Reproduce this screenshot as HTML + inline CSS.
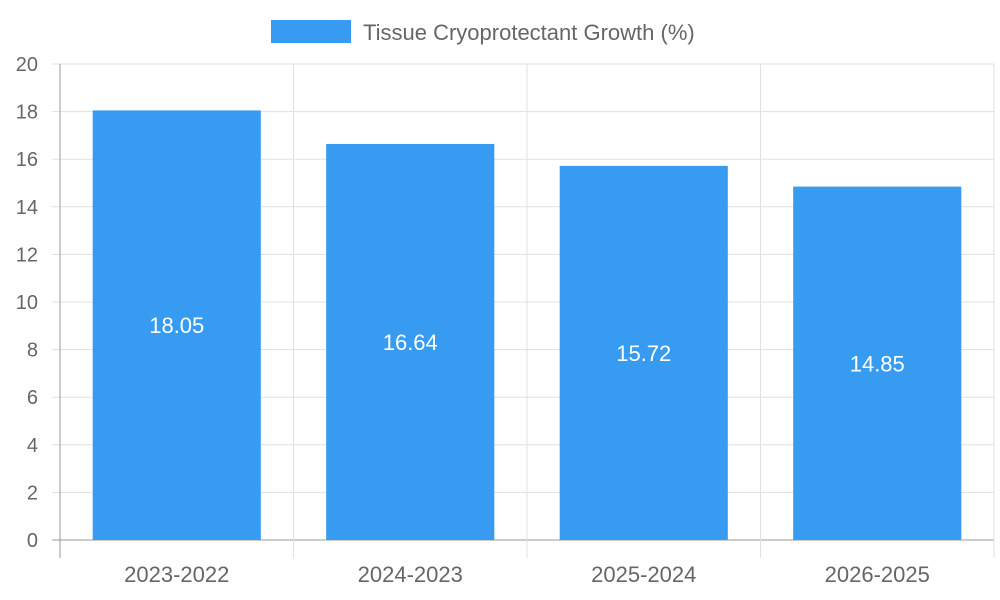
<!DOCTYPE html>
<html><head><meta charset="utf-8"><style>
body{margin:0;background:#fff;font-family:"Liberation Sans",sans-serif;}
svg{display:block}
</style></head><body>
<svg id="chart" width="1000" height="600">
<g>
<rect x="271" y="20" width="80" height="23" fill="#379bf1"/>
<text x="363" y="40" font-size="22" fill="#666">Tissue Cryoprotectant Growth (%)</text>
</g>
<g id="grid"></g>
<g id="bars"></g>
<g id="axes"></g>
</svg>
<script>
const categories=["2023-2022","2024-2023","2025-2024","2026-2025"];
const values=[18.05,16.64,15.72,14.85];
const yTicks=[0,2,4,6,8,10,12,14,16,18,20];
const L=60,R=994,T=64,B=540,yMax=20;
const NS="http://www.w3.org/2000/svg";
const y=v=>B-(v/yMax)*(B-T);
const bw=(R-L)/categories.length;
const x=i=>L+bw*i;
function mk(tag,attrs,parent,text){const e=document.createElementNS(NS,tag);for(const k in attrs)e.setAttribute(k,attrs[k]);if(text!==undefined)e.textContent=text;parent.appendChild(e);return e;}
const grid=document.getElementById('grid'),bars=document.getElementById('bars'),axes=document.getElementById('axes');
yTicks.forEach(t=>{
 const l=mk('line',{x1:L-8,x2:R,y1:y(t),y2:y(t),stroke:t===0?'#999':'#e0e0e0','stroke-width':1},grid);
 
 
 const tx=mk('text',{x:38,y:y(t)+7,'font-size':20,fill:'#666','text-anchor':'end'},axes,String(t));
 
 
});
for(let i=0;i<=categories.length;i++){
 const l=mk('line',{x1:x(i),x2:x(i),y1:T,y2:B+18,stroke:i===0?'#999':'#e0e0e0','stroke-width':1},grid);
 
 
}
categories.forEach((c,i)=>{
 const w=bw*0.72,cx=x(i)+bw/2;
 const r=mk('rect',{x:cx-w/2,y:y(values[i]),width:w,height:B-y(values[i]),fill:'#379bf1'},bars);
 
 
 const v=mk('text',{x:cx,y:(y(values[i])+B)/2+8,'font-size':22,fill:'#fff','text-anchor':'middle'},bars,values[i].toFixed(2));
 
 
 const tl=mk('text',{x:cx,y:582,'font-size':22,fill:'#666','text-anchor':'middle'},axes,c);
 
 
});
</script>
</body></html>
